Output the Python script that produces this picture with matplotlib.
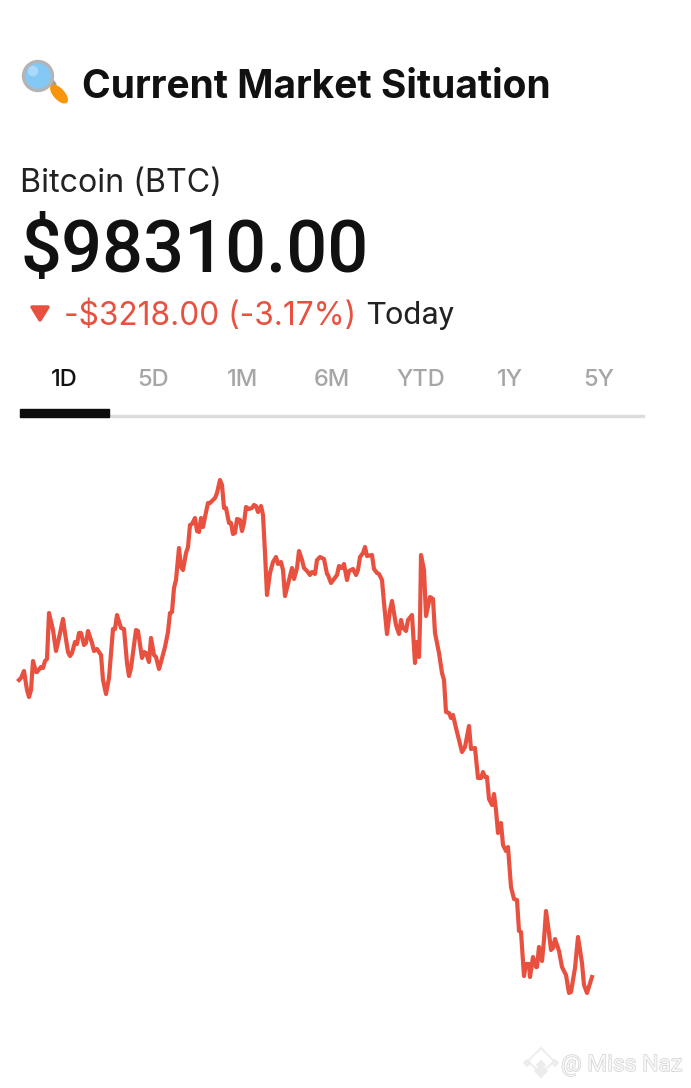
import matplotlib
matplotlib.use("Agg")
import matplotlib.pyplot as plt
import matplotlib.patheffects as pe
from matplotlib.patches import Circle, Polygon, Rectangle, Ellipse
from matplotlib.transforms import Affine2D

plt.rcParams['font.family'] = ['Roboto', 'DejaVu Sans']
WIDE = ['Inter', 'Roboto', 'DejaVu Sans']

RED = '#e8503f'
INK = '#111111'
GREY = '#a6a6a6'

title = 'Current Market Situation'
asset = 'Bitcoin (BTC)'
price = '$98310.00'
change = '-$3218.00 (-3.17%)'
period = 'Today'
tabs = ['1D', '5D', '1M', '6M', 'YTD', '1Y', '5Y']
watermark = '@ Miss Naz'

# minutes since the start of the session
minutes = [0, 4, 10, 16, 20, 24, 28, 34, 36, 44, 48, 52, 56, 60, 68, 74, 80, 88, 92, 98,
           102, 106, 112, 116, 120, 124, 130, 134, 138, 146, 150, 156, 164, 168, 174, 180,
           188, 192, 196, 204, 210, 216, 220, 224, 234, 238, 246, 250, 254, 260, 264, 270,
           274, 280, 284, 292, 298, 302, 306, 310, 314, 320, 324, 328, 334, 338, 342, 346,
           352, 356, 360, 364, 368, 372, 378, 382, 392, 396, 402, 406, 410, 414, 420, 424,
           428, 432, 436, 442, 446, 450, 454, 460, 466, 470, 474, 478, 484, 488, 492, 496,
           502, 508, 514, 518, 524, 528, 532, 540, 546, 550, 556, 560, 566, 570, 576, 582,
           586, 592, 596, 602, 610, 616, 618, 624, 630, 636, 640, 646, 650, 656, 660, 668,
           674, 678, 682, 688, 692, 696, 706, 710, 716, 720, 726, 730, 736, 742, 746, 754,
           760, 764, 768, 774, 778, 786, 792, 794, 800, 802, 804, 810, 814, 822, 828, 832,
           840, 846, 850, 854, 860, 864, 868, 874, 880, 886, 892, 900, 904, 912, 918, 924,
           928, 932, 936, 940, 946, 950, 954, 958, 964, 968, 974, 978, 984, 990, 996, 1000,
           1004, 1010, 1014, 1020, 1022, 1028, 1034, 1036, 1040, 1046, 1050, 1054, 1060,
           1064, 1068, 1072, 1080, 1086, 1094, 1100, 1104, 1112, 1118, 1126, 1130, 1136, 1146]

prices = [101280, 101300, 101370, 101180, 101110, 101180, 101470, 101360, 101360, 101410,
          101400, 101470, 101490, 101950, 101780, 101570, 101700, 101890, 101750, 101560,
          101520, 101550, 101660, 101640, 101750, 101750, 101630, 101650, 101770, 101650,
          101570, 101590, 101530, 101280, 101140, 101300, 101790, 101790, 101930, 101800,
          101790, 101450, 101320, 101400, 101780, 101770, 101500, 101560, 101550, 101460,
          101700, 101530, 101510, 101390, 101460, 101610, 101760, 101950, 101960, 102200,
          102280, 102600, 102410, 102380, 102550, 102610, 102830, 102840, 102900, 102770,
          102760, 102900, 102810, 102910, 103050, 103050, 103100, 103150, 103280, 103230,
          103000, 103000, 102850, 102850, 102740, 102750, 102890, 102880, 102770, 102850,
          103010, 102990, 103000, 103030, 103020, 102960, 103020, 102930, 102550, 102130,
          102350, 102460, 102510, 102440, 102460, 102380, 102120, 102280, 102400, 102290,
          102400, 102570, 102480, 102400, 102370, 102330, 102360, 102340, 102480, 102510,
          102490, 102340, 102330, 102250, 102290, 102330, 102420, 102400, 102440, 102280,
          102370, 102390, 102330, 102380, 102510, 102550, 102610, 102520, 102530, 102390,
          102350, 102340, 102280, 102050, 101740, 101980, 102070, 101830, 101740, 101880,
          101800, 101770, 101880, 101930, 101450, 101660, 101510, 101850, 102530, 102380,
          101920, 102110, 102090, 101750, 101550, 101350, 101280, 100960, 100950, 100900,
          100930, 100800, 100680, 100560, 100610, 100820, 100590, 100600, 100300, 100300,
          100360, 100310, 100310, 100090, 100030, 100140, 99980, 99750, 99850, 99630,
          99570, 99610, 99210, 99090, 99080, 98770, 98760, 98320, 98440, 98440, 98310,
          98510, 98410, 98410, 98610, 98470, 98680, 98970, 98750, 98580, 98600, 98690,
          98570, 98410, 98330, 98150, 98160, 98400, 98710, 98450, 98230, 98150, 98310]


def draw_magnifier(ax):
    handle = Affine2D().rotate_deg_around(59, 94, 48) + ax.transData
    ax.add_patch(Polygon([(47, 81), (51, 78), (56, 84), (52, 87)], color='#9e9e9e', zorder=3))
    ax.add_patch(Ellipse((59, 94), 22, 10, transform=handle, color='#f7960e', zorder=4))
    ax.add_patch(Circle((38, 76), 14.5, facecolor='#84c9f5', edgecolor='#b4b4b4', linewidth=2.4, zorder=5))
    ax.add_patch(Circle((33, 71), 4.5, color='#a9daf9', zorder=6))


def draw_logo(ax, x, y):
    light = '#ececec'
    for dx, dy, r, face in [(0, -2, 13, 'none'), (-14, 0, 3, light), (14, 0, 3, light),
                            (0, 2, 4, light), (0, 8, 6, light)]:
        ax.add_patch(Polygon([(x + dx, y + dy - r), (x + dx + r, y + dy),
                              (x + dx, y + dy + r), (x + dx - r, y + dy)],
                             facecolor=face, edgecolor=light, linewidth=1.3))


fig = plt.figure(figsize=(6.91, 10.88), dpi=100, facecolor='white')

# price line
chart = fig.add_axes([0, 48 / 1088, 1, 600 / 1088])
chart.plot(minutes, prices, color=RED, linewidth=3.0, solid_joinstyle='round')
chart.set_xlim(-38, 1344)
chart.set_ylim(97680, 103680)
chart.axis('off')

# header, tabs and watermark in screen layout
ui = fig.add_axes([0, 0, 1, 1], zorder=2)
ui.set_xlim(0, 691)
ui.set_ylim(1088, 0)
ui.axis('off')

draw_magnifier(ui)
ui.text(82, 83.5, title, fontsize=28, fontweight='bold', family=WIDE, color=INK, va='center_baseline')
ui.text(20, 180, asset, fontsize=23.2, family=WIDE, color='#222222', va='center_baseline')
ui.text(21, 245, price, fontsize=52, fontweight='medium', color=INK, va='center_baseline')
ui.add_patch(Polygon([(32, 307), (48, 307), (40, 320)], facecolor=RED, edgecolor=RED,
                     linewidth=2.5, joinstyle='round'))
ui.text(64, 313, change, fontsize=22.8, family=WIDE, color=RED, va='center_baseline')
ui.text(366, 313, period, fontsize=23, color='#222222', va='center_baseline')

for i, label in enumerate(tabs):
    ui.text(64.5 + i * 89, 377, label, fontsize=17, ha='center', va='center_baseline',
            family=WIDE, color=INK if i == 0 else GREY, fontweight='medium')
ui.add_patch(Rectangle((20, 415), 624, 2, color='#dcdcdc'))
ui.add_patch(Rectangle((20, 409), 89, 8, color='#0d0d0d', zorder=3))

draw_logo(ui, 541, 1063)
ui.text(561, 1062, watermark, fontsize=16.5, color='#f7f7f7', va='center_baseline',
        path_effects=[pe.withStroke(linewidth=0.9, foreground='#cfcfcf')])

fig.savefig('out.png', dpi=100, facecolor='white')
